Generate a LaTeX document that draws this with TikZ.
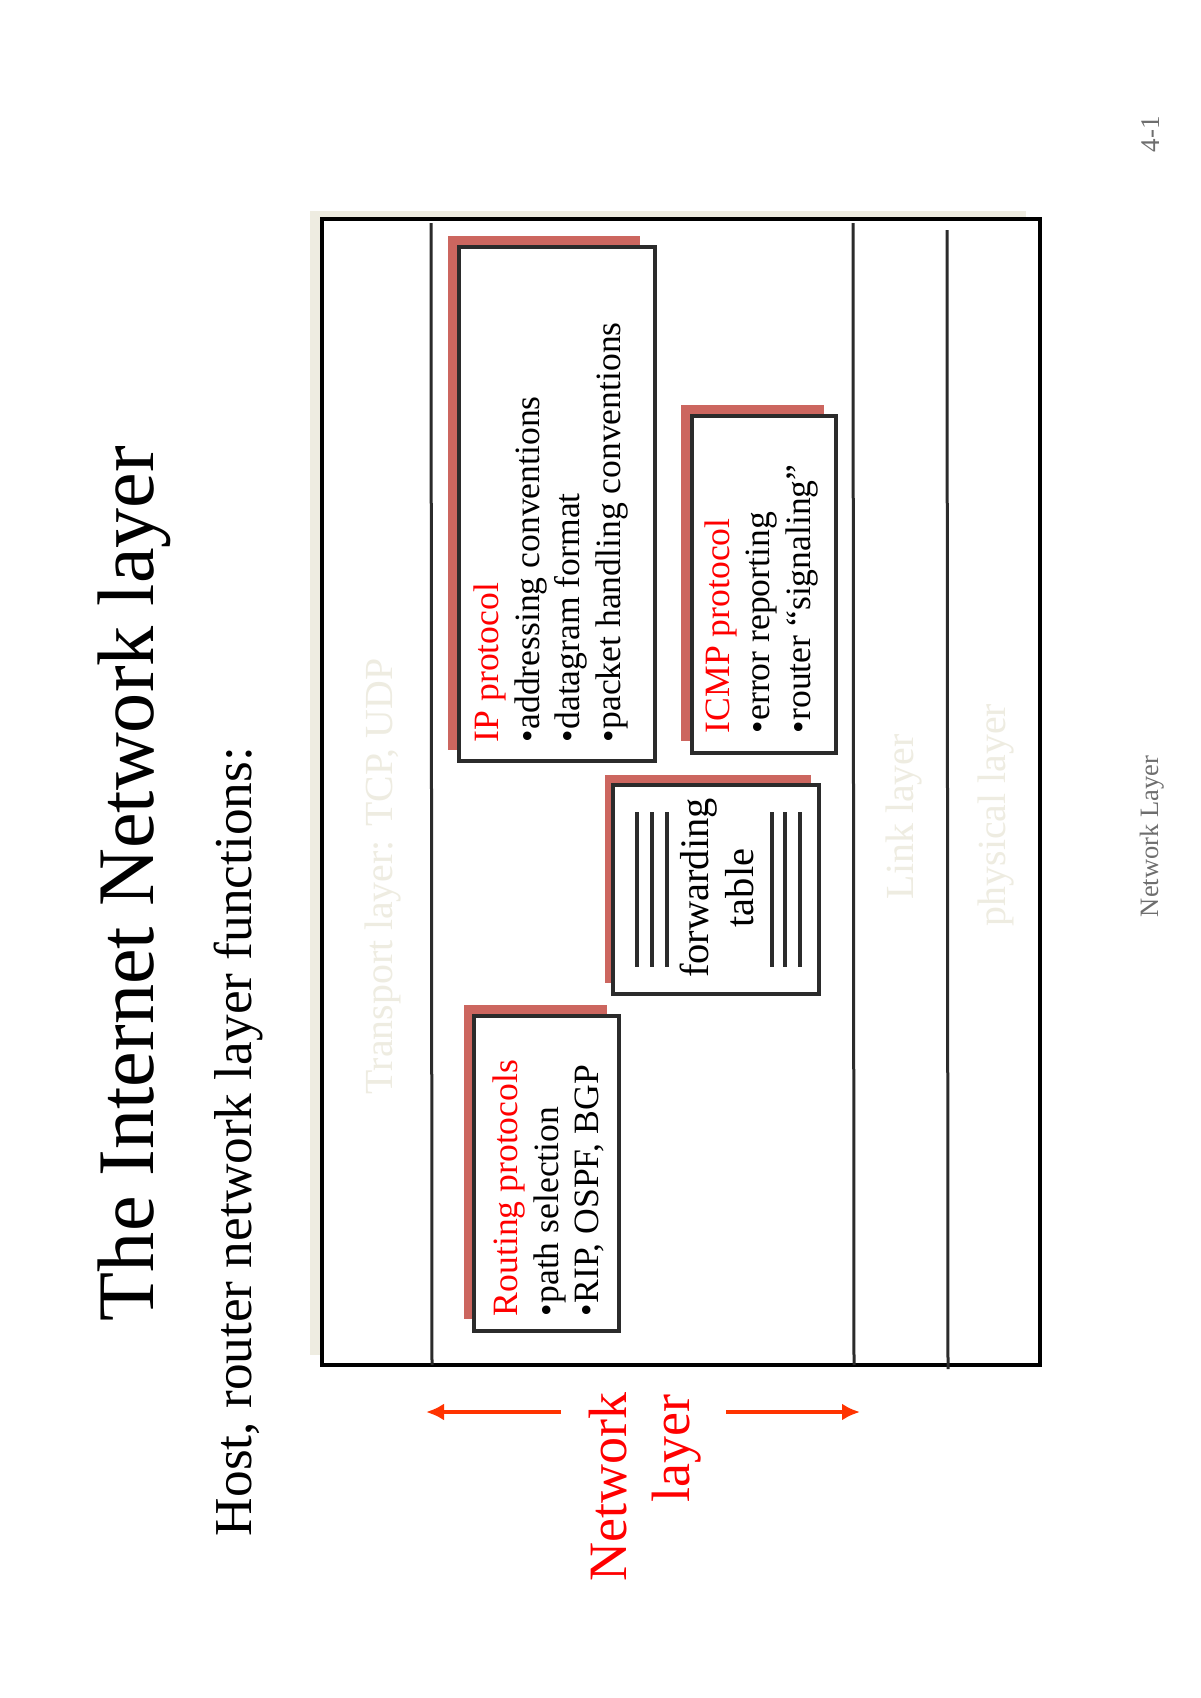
\documentclass[tikz,border=0pt]{standalone}
\usepackage{fontspec}
\setmainfont{Liberation Serif}
\usetikzlibrary{arrows.meta}
\definecolor{faint}{HTML}{EEECE1}
\definecolor{shade}{HTML}{CC665F}
\definecolor{arrowred}{HTML}{FF3300}
\definecolor{boxline}{HTML}{2B2B2B}
\definecolor{pagegray}{HTML}{6E6E6E}
\tikzset{
  rottext/.style={rotate=90,inner sep=0pt,outer sep=0pt,align=left},
  bodytext/.style={rottext,anchor=south west,font=\fontsize{35.6}{40.5}\selectfont},
  fainttext/.style={rottext,anchor=base west,text=faint,font=\fontsize{39.8}{40}\selectfont},
  shadowfill/.style={fill=shade,draw=none},
  whitebox/.style={draw=boxline,line width=3.2pt,fill=white},
  divider/.style={draw=boxline,line width=3pt},
  tablerule/.style={draw=boxline,line width=3.1pt},
  redarrow/.style={draw=arrowred,line width=4.2pt,-{Latex[length=18pt,width=17pt]}},
}
\begin{document}
\begin{tikzpicture}[x=1pt,y=-1pt]
\useasboundingbox (0,0) rectangle (1200,1698);
\fill[faint] (310,211) rectangle (1026,1355);
\draw[fill=white,draw=black,line width=4.4pt] (322,219) rectangle (1040,1365);
\coordinate (d1a) at (431,223); \coordinate (d1b) at (432,1365);
\coordinate (d2a) at (853,223); \coordinate (d2b) at (854,1365);
\coordinate (d3a) at (947,230); \coordinate (d3b) at (948,1369);
\draw[divider] (d1a) -- (d1b);
\draw[divider] (d2a) -- (d2b);
\draw[divider] (d3a) -- (d3b);
\fill[shadowfill] (448,236) rectangle (640,750);
\draw[whitebox] (459,247) rectangle (655,761);
\fill[shadowfill] (681,405) rectangle (824,741);
\draw[whitebox] (692,416) rectangle (836,753);
\fill[shadowfill] (605,775) rectangle (811,983);
\draw[whitebox] (613,785) rectangle (819,994);
\fill[shadowfill] (464,1005) rectangle (607,1319);
\draw[whitebox] (474,1016) rectangle (619,1331);
\foreach \x in {637,652,667,772,785,800} \draw[tablerule] (\x,812) -- (\x,967);
\node[rottext,anchor=base west,font=\fontsize{80.2}{80}\selectfont] (title) at (153,1321) {The Internet Network layer};
\node[rottext,anchor=base west,font=\fontsize{53.3}{53}\selectfont] (sub) at (251,1536) {Host, router network layer functions:};
\node[fainttext] (tl) at (392,1094) {Transport layer: TCP, UDP};
\node[fainttext] (ll) at (913,899) {Link layer};
\node[fainttext] (pl) at (1005,926) {physical layer};
\node[bodytext] (iptext) at (628,742) {\textcolor{red}{IP protocol}\\•addressing conventions\\•datagram format\\•packet handling conventions};
\node[bodytext] (icmptext) at (818,733) {\textcolor{red}{ICMP protocol}\\•error reporting\\•router “signaling”};
\node[bodytext] (routetext) at (604,1316) {\textcolor{red}{Routing protocols}\\•path selection\\•RIP, OSPF, BGP};
\node[rottext,align=center,anchor=center,font=\fontsize{40.5}{45}\selectfont] (fwd) at (716.5,888) {forwarding\\table};
\node[rottext,anchor=base west,text=red,font=\fontsize{54}{54}\selectfont] (net) at (626,1581) {Network};
\node[rottext,anchor=base west,text=red,font=\fontsize{54}{54}\selectfont] (lay) at (689,1502) {layer};
\coordinate (a1s) at (561,1412); \coordinate (a1e) at (426,1412);
\coordinate (a2s) at (726,1412); \coordinate (a2e) at (860,1412);
\draw[redarrow] (a1s) -- (a1e);
\draw[redarrow] (a2s) -- (a2e);
\node[rottext,anchor=base west,text=pagegray,font=\fontsize{27}{27}\selectfont] (pg) at (1159,152) {4-1};
\node[rottext,anchor=base west,text=pagegray,font=\fontsize{26.5}{26.5}\selectfont] (nl) at (1158,917) {Network Layer};
\end{tikzpicture}
\end{document}
